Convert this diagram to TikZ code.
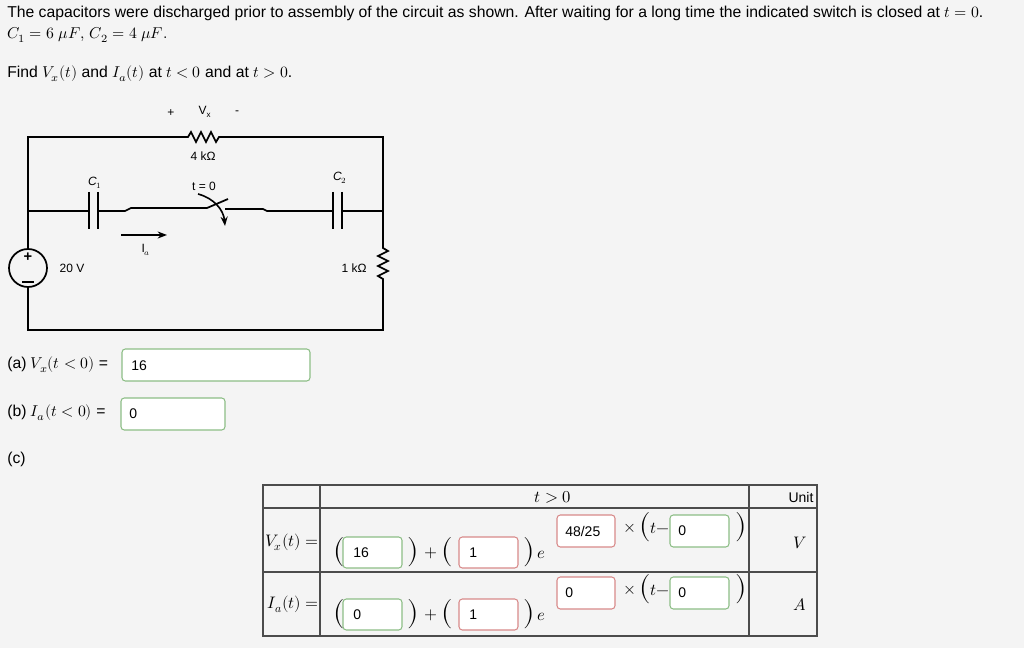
\documentclass[tikz,border=0pt]{standalone}
\usepackage{fontspec}
\setmainfont{Liberation Sans}
\usepackage{unicode-math}
\setmathfont{Latin Modern Math}
\usetikzlibrary{arrows.meta}
\definecolor{bg}{HTML}{F4F4F4}
\definecolor{gr}{HTML}{8DBE86}
\definecolor{rd}{HTML}{D88A8A}
\tikzset{
 w/.style={line width=1.3pt},
 lab/.style={font=\fontsize{9}{10}\selectfont, inner sep=0pt},
 txt/.style={font=\fontsize{11.8}{13}\selectfont, anchor=west, inner sep=0pt},
 gbox/.style={draw=gr, fill=white, rounded corners=2.5pt, line width=0.8pt},
 rbox/.style={draw=rd, fill=white, rounded corners=2.5pt, line width=0.8pt},
 bt/.style={font=\fontsize{10.5}{12}\selectfont, anchor=west, inner sep=0pt},
 mt/.style={font=\fontsize{12.5}{13}\selectfont, inner sep=0pt},
 big/.style={font=\fontsize{22}{22}\selectfont, inner sep=0pt},
}
\begin{document}
\begin{tikzpicture}[x=0.75pt,y=-0.75pt]
\fill[bg] (0,0) rectangle (1024,648);
\useasboundingbox (0,0) rectangle (1024,648);
% texts
\node[txt] (t1) at (7,13) {The capacitors were discharged prior to assembly of the circuit as shown. After waiting for a long time the indicated switch is closed at $t=0$.};
\node[txt] (t2) at (7,35) {$C_1 = 6\ \mu F,\, C_2 = 4\ \mu F.$};
\node[txt] (t3) at (7,74) {Find $V_x(t)$ and $I_a(t)$ at $t<0$ and at $t>0$.};
% circuit
\coordinate (tl) at (28,137); \coordinate (tr) at (383,137);
\coordinate (bl) at (28,330); \coordinate (br) at (383,330);
\coordinate (ml) at (28,211); \coordinate (mr) at (383,211);
\draw[w] (28,249) -- (ml) -- (tl) -- (188,137) -- (191,132) -- (196,142) -- (201,132) -- (206,142) -- (211,132) -- (216,142) -- (219,137) -- (tr) -- (mr) -- (383,248)
 -- (388,251) -- (378,256) -- (388,261) -- (378,266) -- (388,271) -- (378,276) -- (383,279) -- (br) -- (bl) -- (28,287);
\draw[w] (28,268) circle (19);
\node[font=\bfseries\fontsize{11}{11}\selectfont] (pl) at (28,257) {+};
\draw[w] (22,282) -- (34,282);
\draw[w] (ml) -- (89,211); \draw[w] (89,192) -- (89,229); \draw[w] (98,192) -- (98,229);
\draw[w] (98,211) -- (125,211) -- (131,208) -- (207,208) -- (228,199);
\draw[w] (225,209) -- (263,209) -- (267,211) -- (333,211);
\draw[w] (333,192) -- (333,229); \draw[w] (342,192) -- (342,229);
\draw[w] (342,211) -- (mr);
\draw[line width=1.2pt,-{Stealth[length=7pt]}] (198,194) to[bend left=35] (225,226);
\draw[line width=1.2pt,-{Stealth[length=7pt]}] (121,235) -- (167,235);
\node[lab] (vp) at (171,113) {+};
\node[lab] (vx) at (205,112) {V$_\text{x}$};
\node[lab] (vm) at (237,113) {-};
\node[lab] (r4) at (203,156) {4 kΩ};
\node[lab] (c1) at (95,183) {\itshape C$_1$};
\node[lab] (sw) at (204,186) {t = 0};
\node[lab] (c2) at (340,178) {\itshape C$_2$};
\node[lab] (ia) at (146,250) {I$_a$};
\node[lab] (v20) at (72,268) {20 V};
\node[lab] (r1) at (354,268) {1 kΩ};
% answers
\node[txt] (qa) at (7,365) {(a) $V_x(t<0)$ =};
\draw[gbox] (122,349) rectangle (310,381);
\node[bt] (a1) at (131,366) {16};
\node[txt] (qb) at (7,413) {(b) $I_a(t<0)$ =};
\draw[gbox] (121,398) rectangle (225,430);
\node[bt] (a2) at (129,414) {0};
\node[txt] (qc) at (7,459) {(c)};
% table
\draw[line width=0.8pt, draw=black!70] (263,485) rectangle (817,636);
\draw[line width=0.8pt, draw=black!70] (263,508) -- (817,508) (263,572) -- (817,572) (320,485) -- (320,636) (749,485) -- (749,636);
\node[mt] (th) at (553,497) {$t>0$};
\node[font=\fontsize{10.5}{12}\selectfont] (un) at (801,497) {Unit};
\foreach \y/\lab/\u/\a/\b/\ex in {0/{V_x(t)=}/V/16/1/48\slash25, 62/{I_a(t)=}/A/0/1/0}{
  \node[mt, anchor=east] at (319,\y+542) {$\lab$};
  \node[mt] at (800,\y+543) {$\u$};
  \node[big] at (339,\y+552) {$($}; \node[big] at (413,\y+552) {$)$};
  \node[mt] at (431,\y+553) {$+$};
  \node[big] at (447,\y+552) {$($}; \node[big] at (529,\y+552) {$)$};
  \node[mt] at (541,\y+555) {$e$};
  \draw[gbox] (343,\y+537) rectangle (402,\y+568); \node[bt] at (353,\y+553) {\a};
  \draw[rbox] (459,\y+537) rectangle (518,\y+568); \node[bt] at (469,\y+553) {\b};
  \draw[rbox] (557,\y+515) rectangle (615,\y+547); \node[bt] at (565,\y+531) {\ex};
  \node[mt] at (630,\y+528) {$\times$};
  \node[big] at (645,\y+527) {$($};
  \node[mt] at (660,\y+528) {$t-$};
  \draw[gbox] (670,\y+515) rectangle (729,\y+547);
  \node[bt] at (678,\y+531) {0};
  \node[big] at (741,\y+527) {$)$};
}
\end{tikzpicture}
\end{document}
